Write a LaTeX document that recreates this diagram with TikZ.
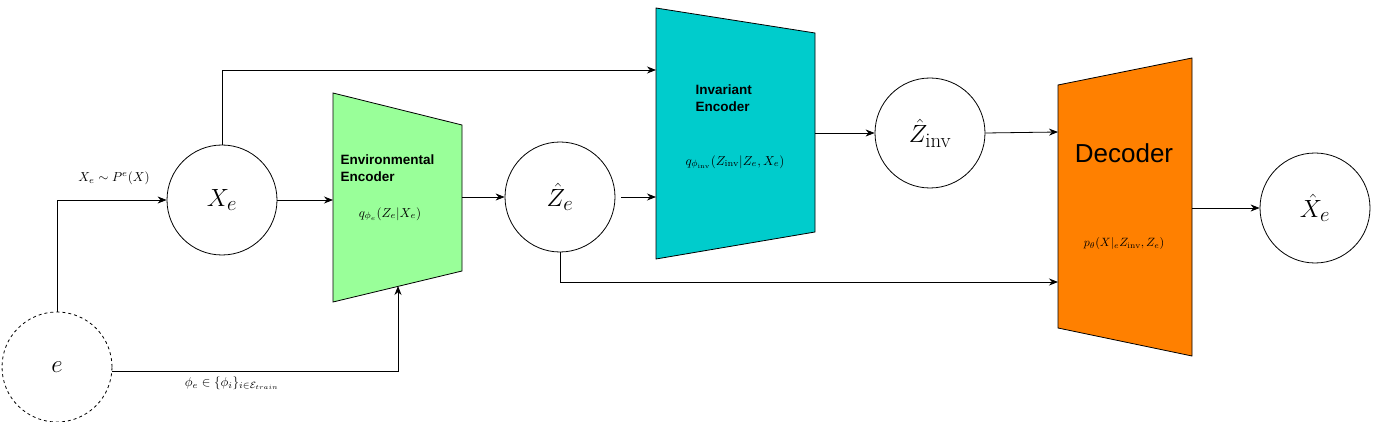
\documentclass[tikz,border=0pt]{standalone}
\usepackage{amsmath}
\usepackage{fontspec}
\newfontfamily\labfont{Liberation Sans}
\usetikzlibrary{arrows.meta}
\begin{document}
\begin{tikzpicture}[x=1pt,y=-1pt,
  circ/.style={draw,circle,minimum size=110pt,inner sep=0pt,line width=0.8pt,font=\Huge},
  arr/.style={-{Stealth[length=9pt,width=7pt]},line width=0.8pt},
  enc/.style={draw,line width=0.8pt},
  lab/.style={font=\labfont\bfseries\fontsize{13.5}{17}\selectfont,align=left},
  mth/.style={scale=1.3,transform shape}]
\useasboundingbox (0,0) rectangle (1376,422);
\node[circ] (xe) at (222,200) {$X_e$};
\node[circ,dashed] (e) at (57,367) {$e$};
\node[circ] (ze) at (560,197) {$\hat Z_e$};
\node[circ] (zinv) at (930,133) {$\hat Z_{\text{inv}}$};
\node[circ] (xh) at (1315,208) {$\hat X_e$};
\draw[enc,fill={rgb,255:red,153;green,255;blue,153}] (333,93) -- (462,125) -- (462,271) -- (333,302) -- cycle;
\draw[enc,fill={rgb,255:red,0;green,204;blue,204}] (656,8) -- (815,33) -- (815,232) -- (656,259) -- cycle;
\draw[enc,fill={rgb,255:red,255;green,128;blue,0}] (1058,85) -- (1192,58) -- (1192,356) -- (1058,328) -- cycle;
\coordinate (envL) at (333,200); \coordinate (envR) at (462,197); \coordinate (envB) at (398,286);
\coordinate (invL) at (656,197); \coordinate (invT) at (656,70); \coordinate (invR) at (815,133);
\coordinate (decT) at (1058,132); \coordinate (decB) at (1058,282); \coordinate (decR) at (1192,208);
\node[lab,anchor=west] (envt) at (337,168) {Environmental\\Encoder};
\node[mth] (envm) at (390,214) {$q_{\phi_e}(Z_e|X_e)$};
\node[lab,anchor=west] (invt) at (692,98) {Invariant\\Encoder};
\node[mth] (invm) at (735,162) {$q_{\phi_{\text{inv}}}(Z_{\text{inv}}|Z_e,X_e)$};
\node[font=\labfont\fontsize{26}{30}\selectfont] (dect) at (1124,153) {Decoder};
\node[scale=1.2,transform shape] (decm) at (1124,244) {$p_\theta(X|_e Z_{\text{inv}},Z_e)$};
\node[mth] (l1) at (114,178) {$X_e\sim P^e(X)$};
\node[mth] (l2) at (232,383) {$\phi_e\in\{\phi_i\}_{i\in\mathcal{E}_{train}}$};
\draw[arr] (e.north) |- (xe.west);
\draw[arr] (xe.east) -- (envL);
\draw[arr] (xe.north) |- (invT);
\draw[arr] (envR) -- (ze.west);
\draw[arr] ([xshift=6pt]ze.east) -- (invL);
\draw[arr] (ze.south) |- (decB);
\draw[arr] (invR) -- (zinv.west);
\draw[arr] (zinv.east) -- (decT);
\draw[arr] (decR) -- (xh.west);
\draw[arr] ([yshift=-4pt]e.east) -| (envB);
\end{tikzpicture}
\end{document}
